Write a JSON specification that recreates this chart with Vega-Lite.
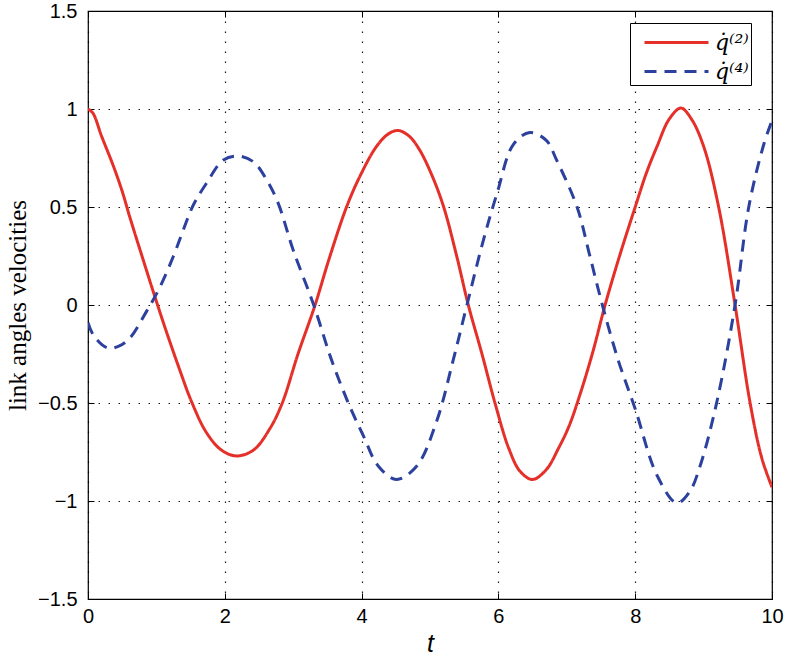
{
  "$schema": "https://vega.github.io/schema/vega-lite/v6.json",
  "autosize": {"type": "none"},
  "width": 684,
  "height": 588,
  "padding": {"left": 88, "top": 11, "right": 13, "bottom": 59},
  "background": "white",
  "config": {
    "view": {"stroke": "black", "strokeWidth": 1.2},
    "axis": {
      "domain": false,
      "labelFont": "Liberation Sans",
      "labelFontSize": 20,
      "labelColor": "black",
      "tickColor": "black",
      "tickSize": -6,
      "tickWidth": 1,
      "grid": true,
      "gridColor": "black",
      "gridDash": [1.5, 8.5],
      "gridWidth": 1.2,
      "gridOpacity": 0.9
    }
  },
  "datasets": {
    "curves": [
      {"t": 0, "v": 1.0, "s": "q̇⁽²⁾"},
      {"t": 0.07, "v": 0.98, "s": "q̇⁽²⁾"},
      {"t": 0.2, "v": 0.86, "s": "q̇⁽²⁾"},
      {"t": 0.37, "v": 0.71, "s": "q̇⁽²⁾"},
      {"t": 0.5, "v": 0.58, "s": "q̇⁽²⁾"},
      {"t": 0.61, "v": 0.45, "s": "q̇⁽²⁾"},
      {"t": 0.78, "v": 0.26, "s": "q̇⁽²⁾"},
      {"t": 0.98, "v": 0.04, "s": "q̇⁽²⁾"},
      {"t": 1.15, "v": -0.14, "s": "q̇⁽²⁾"},
      {"t": 1.34, "v": -0.33, "s": "q̇⁽²⁾"},
      {"t": 1.51, "v": -0.49, "s": "q̇⁽²⁾"},
      {"t": 1.73, "v": -0.65, "s": "q̇⁽²⁾"},
      {"t": 1.95, "v": -0.74, "s": "q̇⁽²⁾"},
      {"t": 2.17, "v": -0.77, "s": "q̇⁽²⁾"},
      {"t": 2.42, "v": -0.74, "s": "q̇⁽²⁾"},
      {"t": 2.66, "v": -0.63, "s": "q̇⁽²⁾"},
      {"t": 2.84, "v": -0.5, "s": "q̇⁽²⁾"},
      {"t": 3.07, "v": -0.25, "s": "q̇⁽²⁾"},
      {"t": 3.32, "v": 0.0, "s": "q̇⁽²⁾"},
      {"t": 3.52, "v": 0.23, "s": "q̇⁽²⁾"},
      {"t": 3.78, "v": 0.5, "s": "q̇⁽²⁾"},
      {"t": 3.98, "v": 0.66, "s": "q̇⁽²⁾"},
      {"t": 4.22, "v": 0.81, "s": "q̇⁽²⁾"},
      {"t": 4.4, "v": 0.875, "s": "q̇⁽²⁾"},
      {"t": 4.54, "v": 0.89, "s": "q̇⁽²⁾"},
      {"t": 4.7, "v": 0.86, "s": "q̇⁽²⁾"},
      {"t": 4.85, "v": 0.79, "s": "q̇⁽²⁾"},
      {"t": 5.03, "v": 0.66, "s": "q̇⁽²⁾"},
      {"t": 5.2, "v": 0.5, "s": "q̇⁽²⁾"},
      {"t": 5.39, "v": 0.25, "s": "q̇⁽²⁾"},
      {"t": 5.56, "v": 0.0, "s": "q̇⁽²⁾"},
      {"t": 5.76, "v": -0.25, "s": "q̇⁽²⁾"},
      {"t": 5.95, "v": -0.5, "s": "q̇⁽²⁾"},
      {"t": 6.15, "v": -0.73, "s": "q̇⁽²⁾"},
      {"t": 6.32, "v": -0.85, "s": "q̇⁽²⁾"},
      {"t": 6.5, "v": -0.89, "s": "q̇⁽²⁾"},
      {"t": 6.7, "v": -0.84, "s": "q̇⁽²⁾"},
      {"t": 6.88, "v": -0.73, "s": "q̇⁽²⁾"},
      {"t": 7.03, "v": -0.62, "s": "q̇⁽²⁾"},
      {"t": 7.19, "v": -0.46, "s": "q̇⁽²⁾"},
      {"t": 7.38, "v": -0.24, "s": "q̇⁽²⁾"},
      {"t": 7.56, "v": 0.0, "s": "q̇⁽²⁾"},
      {"t": 7.78, "v": 0.26, "s": "q̇⁽²⁾"},
      {"t": 8.0, "v": 0.5, "s": "q̇⁽²⁾"},
      {"t": 8.16, "v": 0.67, "s": "q̇⁽²⁾"},
      {"t": 8.32, "v": 0.81, "s": "q̇⁽²⁾"},
      {"t": 8.5, "v": 0.95, "s": "q̇⁽²⁾"},
      {"t": 8.67, "v": 1.005, "s": "q̇⁽²⁾"},
      {"t": 8.82, "v": 0.95, "s": "q̇⁽²⁾"},
      {"t": 9.0, "v": 0.81, "s": "q̇⁽²⁾"},
      {"t": 9.22, "v": 0.5, "s": "q̇⁽²⁾"},
      {"t": 9.46, "v": 0.0, "s": "q̇⁽²⁾"},
      {"t": 9.68, "v": -0.5, "s": "q̇⁽²⁾"},
      {"t": 9.85, "v": -0.78, "s": "q̇⁽²⁾"},
      {"t": 10, "v": -0.93, "s": "q̇⁽²⁾"},
      {"t": 0, "v": -0.09, "s": "q̇⁽⁴⁾"},
      {"t": 0.09, "v": -0.16, "s": "q̇⁽⁴⁾"},
      {"t": 0.29, "v": -0.22, "s": "q̇⁽⁴⁾"},
      {"t": 0.45, "v": -0.21, "s": "q̇⁽⁴⁾"},
      {"t": 0.61, "v": -0.17, "s": "q̇⁽⁴⁾"},
      {"t": 0.86, "v": -0.03, "s": "q̇⁽⁴⁾"},
      {"t": 1.05, "v": 0.09, "s": "q̇⁽⁴⁾"},
      {"t": 1.25, "v": 0.25, "s": "q̇⁽⁴⁾"},
      {"t": 1.39, "v": 0.38, "s": "q̇⁽⁴⁾"},
      {"t": 1.54, "v": 0.51, "s": "q̇⁽⁴⁾"},
      {"t": 1.73, "v": 0.62, "s": "q̇⁽⁴⁾"},
      {"t": 1.98, "v": 0.74, "s": "q̇⁽⁴⁾"},
      {"t": 2.2, "v": 0.76, "s": "q̇⁽⁴⁾"},
      {"t": 2.42, "v": 0.73, "s": "q̇⁽⁴⁾"},
      {"t": 2.61, "v": 0.64, "s": "q̇⁽⁴⁾"},
      {"t": 2.78, "v": 0.52, "s": "q̇⁽⁴⁾"},
      {"t": 3.0, "v": 0.28, "s": "q̇⁽⁴⁾"},
      {"t": 3.3, "v": 0.0, "s": "q̇⁽⁴⁾"},
      {"t": 3.56, "v": -0.28, "s": "q̇⁽⁴⁾"},
      {"t": 3.83, "v": -0.52, "s": "q̇⁽⁴⁾"},
      {"t": 4.03, "v": -0.67, "s": "q̇⁽⁴⁾"},
      {"t": 4.24, "v": -0.82, "s": "q̇⁽⁴⁾"},
      {"t": 4.51, "v": -0.89, "s": "q̇⁽⁴⁾"},
      {"t": 4.81, "v": -0.82, "s": "q̇⁽⁴⁾"},
      {"t": 5.1, "v": -0.59, "s": "q̇⁽⁴⁾"},
      {"t": 5.34, "v": -0.28, "s": "q̇⁽⁴⁾"},
      {"t": 5.54, "v": 0.0, "s": "q̇⁽⁴⁾"},
      {"t": 5.78, "v": 0.33, "s": "q̇⁽⁴⁾"},
      {"t": 5.98, "v": 0.57, "s": "q̇⁽⁴⁾"},
      {"t": 6.22, "v": 0.82, "s": "q̇⁽⁴⁾"},
      {"t": 6.46, "v": 0.88, "s": "q̇⁽⁴⁾"},
      {"t": 6.7, "v": 0.84, "s": "q̇⁽⁴⁾"},
      {"t": 6.85, "v": 0.74, "s": "q̇⁽⁴⁾"},
      {"t": 7.15, "v": 0.5, "s": "q̇⁽⁴⁾"},
      {"t": 7.33, "v": 0.26, "s": "q̇⁽⁴⁾"},
      {"t": 7.52, "v": 0.0, "s": "q̇⁽⁴⁾"},
      {"t": 7.75, "v": -0.28, "s": "q̇⁽⁴⁾"},
      {"t": 8.0, "v": -0.53, "s": "q̇⁽⁴⁾"},
      {"t": 8.32, "v": -0.87, "s": "q̇⁽⁴⁾"},
      {"t": 8.61, "v": -1.01, "s": "q̇⁽⁴⁾"},
      {"t": 8.8, "v": -0.95, "s": "q̇⁽⁴⁾"},
      {"t": 8.95, "v": -0.82, "s": "q̇⁽⁴⁾"},
      {"t": 9.19, "v": -0.5, "s": "q̇⁽⁴⁾"},
      {"t": 9.46, "v": 0.0, "s": "q̇⁽⁴⁾"},
      {"t": 9.66, "v": 0.5, "s": "q̇⁽⁴⁾"},
      {"t": 9.88, "v": 0.82, "s": "q̇⁽⁴⁾"},
      {"t": 10, "v": 0.94, "s": "q̇⁽⁴⁾"}
    ]
  },
  "data": {"name": "curves"},
  "layer": [
    {
      "mark": {"type": "line", "strokeWidth": 3, "interpolate": "catmull-rom", "clip": true},
      "encoding": {
        "x": {
          "field": "t", "type": "quantitative",
          "scale": {"domain": [0, 10], "nice": false, "zero": false},
          "axis": {
            "values": [0, 2, 4, 6, 8, 10],
            "title": "t",
            "titleFont": "Liberation Sans",
            "titleFontStyle": "italic",
            "titleFontWeight": "normal",
            "titleFontSize": 25,
            "titleColor": "black",
            "titlePadding": 5,
            "labelPadding": 13,
            "labelFlush": false
          }
        },
        "y": {
          "field": "v", "type": "quantitative",
          "scale": {"domain": [-1.5, 1.5], "nice": false, "zero": false},
          "axis": {
            "values": [-1.5, -1, -0.5, 0, 0.5, 1, 1.5],
            "format": "~g",
            "title": "link angles velocities",
            "titleFont": "Liberation Serif",
            "titleFontWeight": "normal",
            "titleFontSize": 25,
            "titleColor": "black",
            "titlePadding": 7,
            "labelPadding": 17
          }
        },
        "color": {
          "field": "s", "type": "nominal",
          "scale": {"domain": ["q̇⁽²⁾", "q̇⁽⁴⁾"], "range": ["#e5302a", "#2c409e"]},
          "legend": {
            "title": null,
            "orient": "none",
            "legendX": 542,
            "legendY": 12,
            "strokeColor": "black",
            "fillColor": "white",
            "padding": 2,
            "symbolType": "M-2,0H2",
            "symbolSize": 1024,
            "symbolOffset": 27,
            "symbolStrokeWidth": 3,
            "labelFont": "DejaVu Serif",
            "labelFontStyle": "italic",
            "labelFontSize": 22,
            "labelColor": "black",
            "rowPadding": -4,
            "labelOffset": 21
          }
        },
        "strokeDash": {
          "field": "s", "type": "nominal",
          "scale": {"domain": ["q̇⁽²⁾", "q̇⁽⁴⁾"], "range": [[1, 0], [12, 8]]},
          "legend": null
        }
      }
    },
    {
      "mark": {"type": "point", "opacity": 0},
      "encoding": {
        "x": {
          "field": "t", "type": "quantitative",
          "scale": {"domain": [0, 10], "nice": false, "zero": false},
          "axis": {"orient": "top", "values": [0, 2, 4, 6, 8, 10], "labels": false, "title": null, "grid": false}
        },
        "y": {
          "field": "v", "type": "quantitative",
          "scale": {"domain": [-1.5, 1.5], "nice": false, "zero": false},
          "axis": {"orient": "right", "values": [-1.5, -1, -0.5, 0, 0.5, 1, 1.5], "labels": false, "title": null, "grid": false}
        }
      }
    }
  ],
  "resolve": {"axis": {"x": "independent", "y": "independent"}}
}
